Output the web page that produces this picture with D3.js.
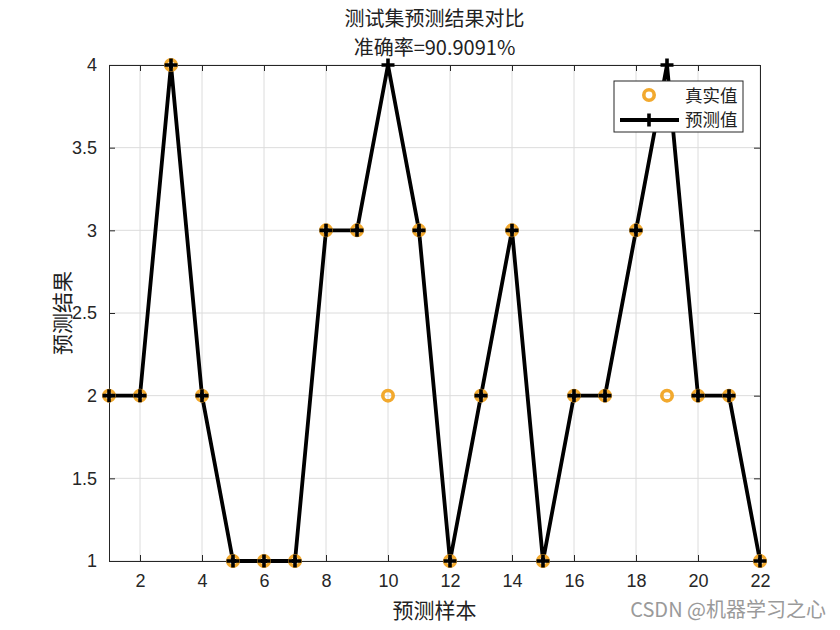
<!DOCTYPE html>
<html><head><meta charset="utf-8">
<script src="https://cdn.jsdelivr.net/npm/d3@7"></script>
<style>body{margin:0;background:#fff}</style>
</head><body>
<script>
const samples = d3.range(1, 23);
const trueVals = [2,2,4,2,1,1,1,3,3,2,3,1,2,3,1,2,2,3,2,2,2,1];
const predVals = [2,2,4,2,1,1,1,3,3,4,3,1,2,3,1,2,2,3,4,2,2,1];
const xTicks = [2,4,6,8,10,12,14,16,18,20,22];
const yTicks = [1,1.5,2,2.5,3,3.5,4];
const title1 = "测试集预测结果对比";
const title2 = "准确率=90.9091%";
const xLabel = "预测样本", yLabel = "预测结果";
const legendLabels = ["真实值", "预测值"];

const W = 840, H = 630;
const L = 109, R = 760, T = 65, B = 561;
const svg = d3.select("body").append("svg").attr("width", W).attr("height", H);
const x = d3.scaleLinear().domain([1, 22]).range([L, R]);
const y = d3.scaleLinear().domain([1, 4]).range([B, T]);
const cjk = "'Noto Sans CJK SC', sans-serif";
const num = "'Liberation Sans', Arial, sans-serif";
const orange = "#F2A92E";

// grid
svg.append("g").selectAll("line").data(xTicks).join("line")
  .attr("x1", d => x(d)).attr("x2", d => x(d)).attr("y1", T).attr("y2", B)
  .attr("stroke", "#dcdcdc").attr("stroke-width", 1);
svg.append("g").selectAll("line").data(yTicks).join("line")
  .attr("y1", d => y(d)).attr("y2", d => y(d)).attr("x1", L).attr("x2", R)
  .attr("stroke", "#dcdcdc").attr("stroke-width", 1);

// axes
svg.append("g").attr("transform", `translate(0,${B})`)
  .call(d3.axisBottom(x).tickValues(xTicks).tickSizeInner(-6).tickSizeOuter(0).tickPadding(13));
svg.append("g").attr("transform", `translate(${L},0)`)
  .call(d3.axisLeft(y).tickValues(yTicks).tickSizeInner(-6).tickSizeOuter(0).tickPadding(12).tickFormat(d3.format("")));
svg.append("g").attr("transform", `translate(0,${T})`)
  .call(d3.axisTop(x).tickValues(xTicks).tickSizeInner(-6).tickSizeOuter(0).tickFormat(""));
svg.append("g").attr("transform", `translate(${R},0)`)
  .call(d3.axisRight(y).tickValues(yTicks).tickSizeInner(-6).tickSizeOuter(0).tickFormat(""));
svg.selectAll(".domain").attr("stroke", "#262626");
svg.selectAll(".tick line").attr("stroke", "#262626");
svg.selectAll(".tick text").attr("font-family", num).attr("font-size", 18).attr("fill", "#262626");

// predicted line
svg.append("path").datum(samples)
  .attr("d", d3.line().x(d => x(d)).y((d, i) => y(predVals[i])))
  .attr("fill", "none").attr("stroke", "#000").attr("stroke-width", 3.8).attr("stroke-linejoin", "miter");

// true markers
svg.append("g").selectAll("circle").data(samples).join("circle")
  .attr("cx", d => x(d)).attr("cy", (d, i) => y(trueVals[i])).attr("r", 5.2)
  .attr("fill", "none").attr("stroke", orange).attr("stroke-width", 3.6);

// pred plus markers
const plus = (cx, cy, s) => `M${cx - s},${cy}H${cx + s}M${cx},${cy - s}V${cy + s}`;
svg.append("g").selectAll("path").data(samples).join("path")
  .attr("d", (d, i) => plus(x(d), y(predVals[i]), 6.5))
  .attr("stroke", "#000").attr("stroke-width", 3.6);

// titles
svg.append("text").attr("x", (L + R) / 2).attr("y", 26).attr("text-anchor", "middle")
  .attr("font-family", cjk).attr("font-size", 20).attr("fill", "#222").text(title1);
svg.append("text").attr("x", (L + R) / 2).attr("y", 55).attr("text-anchor", "middle")
  .attr("font-family", cjk).attr("font-size", 20).attr("fill", "#222").text(title2);
svg.append("text").attr("x", (L + R) / 2).attr("y", 618).attr("text-anchor", "middle")
  .attr("font-family", cjk).attr("font-size", 21).attr("fill", "#222").text(xLabel);
svg.append("text").attr("transform", `translate(70,${(T + B) / 2}) rotate(-90)`).attr("text-anchor", "middle")
  .attr("font-family", cjk).attr("font-size", 21).attr("fill", "#222").text(yLabel);

// legend
const lg = svg.append("g");
lg.append("rect").attr("x", 614).attr("y", 81).attr("width", 129).attr("height", 51)
  .attr("fill", "#fff").attr("stroke", "#262626").attr("stroke-width", 1);
lg.append("circle").attr("cx", 649).attr("cy", 95).attr("r", 5.2)
  .attr("fill", "none").attr("stroke", orange).attr("stroke-width", 3.6);
lg.append("line").attr("x1", 620).attr("x2", 679).attr("y1", 120).attr("y2", 120)
  .attr("stroke", "#000").attr("stroke-width", 3.8);
lg.append("path").attr("d", plus(649, 120, 6.5)).attr("stroke", "#000").attr("stroke-width", 3.6);
lg.selectAll("text.l").data(legendLabels).join("text").attr("class", "l")
  .attr("x", 685).attr("y", (d, i) => 102 + i * 24)
  .attr("font-family", cjk).attr("font-size", 17.5).attr("fill", "#222").text(d => d);

// watermark
svg.append("text").attr("x", 826).attr("y", 617).attr("text-anchor", "end")
  .attr("font-family", cjk).attr("font-size", 20).attr("fill", "#9a9a9a").text("CSDN @机器学习之心");
</script>
</body></html>
